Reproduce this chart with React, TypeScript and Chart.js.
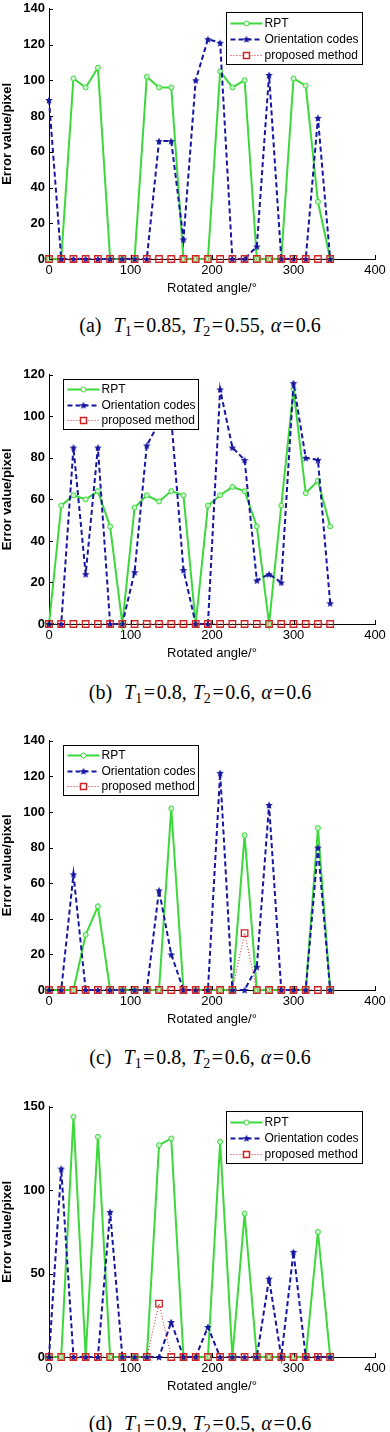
import React, { useEffect, useRef } from 'react';
import { Chart, registerables } from 'chart.js';

Chart.register(...registerables);

// ---------- data ----------
const angles = [0, 15, 30, 45, 60, 75, 90, 105, 120, 135, 150, 165, 180, 195, 210, 225, 240, 255, 270, 285, 300, 315, 330, 345];
const seriesLabels = ['RPT', 'Orientation codes', 'proposed method'];
const xTickStep = 100;
const xMax = 400;

const rptA = [0, 0, 101, 96, 107, 0, 0, 0, 102, 96, 96, 0, 0, 0, 105, 96, 100, 0, 0, 0, 101, 97, 32, 0];
const oriA = [89, 0, 0, 0, 0, 0, 0, 0, 0, 66, 66, 11, 100, 123, 121, 0, 0, 7, 103, 0, 0, 0, 79, 0];
const propA = [0, 0, 0, 0, 0, 0, 0, 0, 0, 0, 0, 0, 0, 0, 0, 0, 0, 0, 0, 0, 0, 0, 0, 0];

const rptB = [0, 57, 62, 60, 64, 47, 0, 56, 62, 59, 64, 62, 0, 57, 62, 66, 64, 47, 0, 57, 113, 63, 69, 47];
const oriB = [0, 0, 85, 24, 85, 0, 0, 25, 86, 97, 99, 26, 0, 0, 113, 85, 79, 21, 24, 20, 116, 80, 79, 10];
const propB = [0, 0, 0, 0, 0, 0, 0, 0, 0, 0, 0, 0, 0, 0, 0, 0, 0, 0, 0, 0, 0, 0, 0, 0];

const rptC = [0, 0, 0, 31, 47, 0, 0, 0, 0, 0, 102, 0, 0, 0, 0, 0, 87, 0, 0, 0, 0, 0, 91, 0];
const oriC = [0, 0, 65, 0, 0, 0, 0, 0, 0, 56, 20, 0, 0, 0, 122, 0, 0, 13, 104, 0, 0, 0, 80, 0];
const propC = [0, 0, 0, 0, 0, 0, 0, 0, 0, 0, 0, 0, 0, 0, 0, 0, 32, 0, 0, 0, 0, 0, 0, 0];

const rptD = [0, 0, 144, 0, 132, 0, 0, 0, 0, 127, 131, 0, 0, 0, 129, 0, 86, 0, 0, 0, 0, 0, 75, 0];
const oriD = [0, 113, 0, 0, 0, 87, 0, 0, 0, 0, 21, 0, 0, 18, 0, 0, 0, 0, 47, 0, 63, 0, 0, 0];
const propD = [0, 0, 0, 0, 0, 0, 0, 0, 0, 32, 0, 0, 0, 0, 0, 0, 0, 0, 0, 0, 0, 0, 0, 0];

const yMaxA = 140, yStepA = 20;
const yMaxB = 120, yStepB = 20;
const yMaxC = 140, yStepC = 20;
const yMaxD = 150, yStepD = 50;

const captionA = { tag: 'a', t1: '0.85', t2: '0.55', alpha: '0.6' };
const captionB = { tag: 'b', t1: '0.8', t2: '0.6', alpha: '0.6' };
const captionC = { tag: 'c', t1: '0.8', t2: '0.6', alpha: '0.6' };
const captionD = { tag: 'd', t1: '0.9', t2: '0.5', alpha: '0.6' };

// ---------- styles / layout ----------
const GREEN = '#3cd83c';
const BLUE = '#1616a0';
const RED = '#d02424';
const SANS = '"Liberation Sans", Arial, Helvetica, sans-serif';
const SERIF = '"Liberation Serif", "Times New Roman", Times, serif';

type PanelCfg = {
  rpt: number[]; ori: number[]; prop: number[];
  yMax: number; yStep: number;
  areaTop: number; areaBottom: number;
  legend: { x: number; y: number; w: number; h: number };
  caption: { tag: string; t1: string; t2: string; alpha: string };
  captionY: number;
};

const panels: PanelCfg[] = [
  { rpt: rptA, ori: oriA, prop: propA, yMax: yMaxA, yStep: yStepA, areaTop: 7, areaBottom: 259, legend: { x: 226, y: 12, w: 136, h: 52 }, caption: captionA, captionY: 325 },
  { rpt: rptB, ori: oriB, prop: propB, yMax: yMaxB, yStep: yStepB, areaTop: 373, areaBottom: 624, legend: { x: 63, y: 379, w: 135, h: 50 }, caption: captionB, captionY: 692 },
  { rpt: rptC, ori: oriC, prop: propC, yMax: yMaxC, yStep: yStepC, areaTop: 739, areaBottom: 990, legend: { x: 63, y: 745, w: 135, h: 50 }, caption: captionC, captionY: 1057 },
  { rpt: rptD, ori: oriD, prop: propD, yMax: yMaxD, yStep: yStepD, areaTop: 1105, areaBottom: 1357, legend: { x: 226, y: 1111, w: 136, h: 52 }, caption: captionD, captionY: 1423 },
];

const PAD_TOP = 10;
const X_AXIS_H = 40;
const Y_AXIS_W = 49;
const CANVAS_W = 390;

function makeStar(color: string, size: number): HTMLCanvasElement {
  const c = document.createElement('canvas');
  c.width = size;
  c.height = size;
  const ctx = c.getContext('2d')!;
  const cx = size / 2, cy = size / 2 + 0.4, R = size / 2, r = R * 0.45;
  ctx.beginPath();
  for (let i = 0; i < 10; i++) {
    const ang = -Math.PI / 2 + (i * Math.PI) / 5;
    const rad = i % 2 === 0 ? R : r;
    ctx.lineTo(cx + rad * Math.cos(ang), cy + rad * Math.sin(ang));
  }
  ctx.closePath();
  ctx.fillStyle = color;
  ctx.fill();
  return c;
}

function Panel({ cfg }: { cfg: PanelCfg }) {
  const ref = useRef<HTMLCanvasElement | null>(null);
  const canvasTop = cfg.areaTop - PAD_TOP;
  const canvasH = cfg.areaBottom - cfg.areaTop + PAD_TOP + X_AXIS_H;

  useEffect(() => {
    if (!ref.current) return;
    const star = makeStar(BLUE, 8);
    const legendBox = cfg.legend;

    const extras = {
      id: 'extras',
      afterDraw(chart: any) {
        const ctx = chart.ctx as CanvasRenderingContext2D;
        const { left, bottom } = chart.chartArea;
        const xs = chart.scales.x, ys = chart.scales.y;
        ctx.save();
        ctx.strokeStyle = '#000';
        ctx.lineWidth = 1;
        ctx.setLineDash([]);
        ctx.beginPath();
        xs.ticks.forEach((t: any) => {
          const px = Math.round(xs.getPixelForValue(t.value)) + 0.5;
          ctx.moveTo(px, bottom);
          ctx.lineTo(px, bottom - 4);
        });
        ys.ticks.forEach((t: any) => {
          const py = Math.round(ys.getPixelForValue(t.value)) + 0.5;
          ctx.moveTo(left, py);
          ctx.lineTo(left + 4, py);
        });
        ctx.stroke();

        // legend (canvas coords)
        const lx = legendBox.x + 0.5;
        const ly = legendBox.y - canvasTop + 0.5;
        ctx.fillStyle = '#fff';
        ctx.fillRect(lx, ly, legendBox.w, legendBox.h);
        ctx.strokeStyle = '#000';
        ctx.strokeRect(lx, ly, legendBox.w, legendBox.h);
        const ds = chart.data.datasets;
        const rowH = (legendBox.h - 4) / 3;
        ds.forEach((d: any, i: number) => {
          const cy = Math.round(ly + 2 + rowH * (i + 0.5)) + 0.5;
          const x0 = lx + 4, x1 = lx + 36, mx = (x0 + x1) / 2;
          ctx.save();
          ctx.strokeStyle = d.borderColor;
          ctx.lineWidth = d.borderWidth;
          ctx.setLineDash(d.borderDash || []);
          ctx.beginPath();
          ctx.moveTo(x0, cy);
          ctx.lineTo(x1, cy);
          ctx.stroke();
          ctx.setLineDash([]);
          if (d.pointStyle === 'circle') {
            ctx.beginPath();
            ctx.arc(mx, cy, d.pointRadius, 0, Math.PI * 2);
            ctx.fillStyle = '#fff';
            ctx.fill();
            ctx.strokeStyle = d.pointBorderColor;
            ctx.lineWidth = 1;
            ctx.stroke();
          } else if (d.pointStyle === 'rect') {
            ctx.strokeStyle = d.pointBorderColor;
            ctx.lineWidth = 1.5;
            ctx.fillStyle = '#fff';
            ctx.fillRect(mx - 3, cy - 3, 6, 6);
            ctx.strokeRect(mx - 3, cy - 3, 6, 6);
          } else {
            ctx.drawImage(d.pointStyle, mx - 4, cy - 4.4);
          }
          ctx.restore();
          ctx.fillStyle = '#000';
          ctx.font = `12px ${SANS}`;
          ctx.textBaseline = 'middle';
          ctx.textAlign = 'left';
          ctx.fillText(d.label, lx + 38, cy);
        });
        ctx.restore();
      },
    };

    const toPts = (arr: number[]) => angles.map((a, i) => ({ x: a, y: arr[i] }));

    const chart = new Chart(ref.current, {
      type: 'line',
      data: {
        datasets: [
          {
            label: seriesLabels[0], data: toPts(cfg.rpt), borderColor: GREEN, borderWidth: 2,
            pointStyle: 'circle', pointRadius: 2.5, pointBorderColor: GREEN, pointBorderWidth: 1,
            pointBackgroundColor: '#c8f5c8', tension: 0, clip: false as any, order: 3,
          } as any,
          {
            label: seriesLabels[1], data: toPts(cfg.ori), borderColor: BLUE, borderWidth: 2, borderDash: [5, 3],
            pointStyle: star, pointRadius: 4, tension: 0, clip: false as any, order: 2,
          } as any,
          {
            label: seriesLabels[2], data: toPts(cfg.prop), borderColor: RED, borderWidth: 1, borderDash: [1, 2],
            pointStyle: 'rect', pointRadius: 4.6, pointBorderColor: RED, pointBorderWidth: 1.3,
            pointBackgroundColor: 'rgba(0,0,0,0)', tension: 0, clip: false as any, order: 1,
          } as any,
        ],
      },
      options: {
        responsive: false,
        animation: false,
        devicePixelRatio: 1,
        layout: { padding: { top: PAD_TOP, left: 0, right: 15, bottom: 0 } },
        plugins: { legend: { display: false }, tooltip: { enabled: false }, title: { display: false } },
        events: [],
        scales: {
          x: {
            type: 'linear', min: 0, max: xMax,
            ticks: { stepSize: xTickStep, color: '#000', font: { family: SANS, size: 13 }, padding: 4, maxRotation: 0 },
            grid: { display: false, drawTicks: false },
            border: { display: true, color: '#000', width: 1 },
            title: { display: true, text: 'Rotated angle/°', color: '#000', font: { family: SANS, size: 13 }, padding: { top: 0, bottom: 3 } },
            afterFit: (s: any) => { s.height = X_AXIS_H; },
          },
          y: {
            type: 'linear', min: 0, max: cfg.yMax,
            ticks: { stepSize: cfg.yStep, color: '#000', font: { family: SANS, size: 13, weight: 'bold' }, padding: 4 },
            grid: { display: false, drawTicks: false },
            border: { display: true, color: '#000', width: 1 },
            title: { display: true, text: 'Error value/pixel', color: '#000', font: { family: SANS, size: 13, weight: 'bold' }, padding: { top: 0, bottom: 0 } },
            afterFit: (s: any) => { s.width = Y_AXIS_W; },
          },
        },
      } as any,
      plugins: [extras],
    });
    return () => chart.destroy();
  }, [cfg]);

  const c = cfg.caption;
  const sub: React.CSSProperties = { fontSize: '0.7em', verticalAlign: '-0.3em', lineHeight: 0 };
  const eq: React.CSSProperties = { margin: '0 0.08em' };
  return (
    <>
      <canvas
        ref={ref}
        width={CANVAS_W}
        height={canvasH}
        style={{ position: 'absolute', left: 0, top: canvasTop, width: CANVAS_W, height: canvasH }}
      />
      <div
        style={{
          position: 'absolute', left: 10, width: 380, top: cfg.captionY - 12, height: 24,
          lineHeight: '24px', textAlign: 'center', fontFamily: SERIF, fontSize: 20, color: '#000', whiteSpace: 'nowrap',
        }}
      >
        ({c.tag})<span style={{ marginLeft: '0.6em' }} />
        <i>T</i><span style={sub}>1</span><span style={eq}>=</span>{c.t1},
        <span style={{ marginLeft: '0.3em' }} />
        <i>T</i><span style={sub}>2</span><span style={eq}>=</span>{c.t2},
        <span style={{ marginLeft: '0.3em' }} />
        <i>α</i><span style={eq}>=</span>{c.alpha}
      </div>
    </>
  );
}

export default function App() {
  return (
    <div style={{ position: 'absolute', left: 0, top: 0, width: 390, height: 1432, background: '#fff', overflow: 'hidden' }}>
      {panels.map((p, i) => (
        <Panel key={i} cfg={p} />
      ))}
    </div>
  );
}
